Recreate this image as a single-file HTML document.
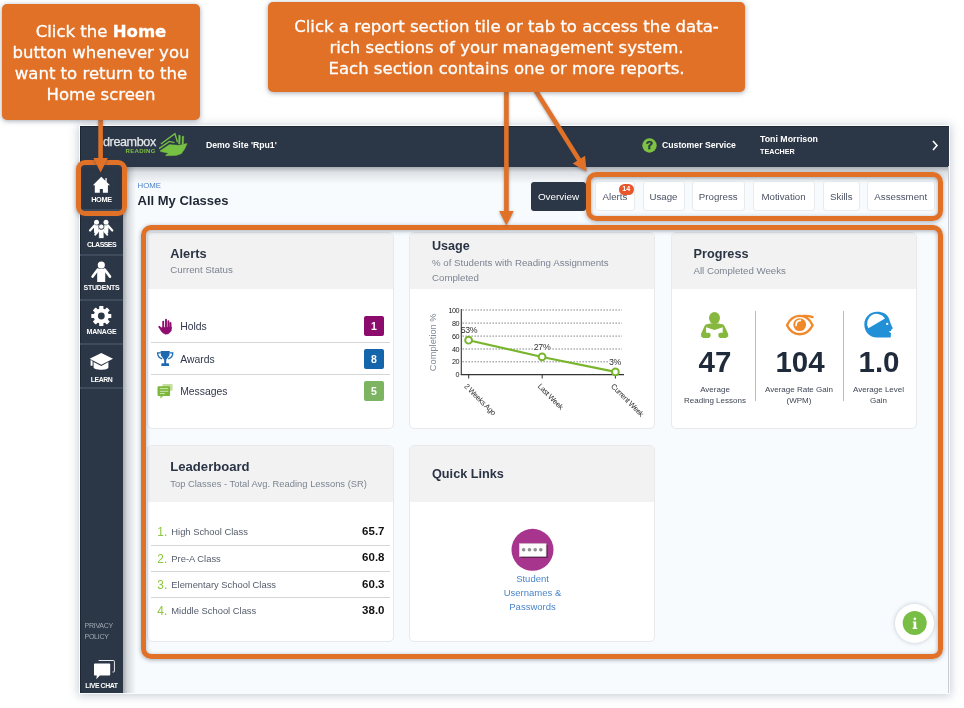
<!DOCTYPE html>
<html><head><meta charset="utf-8">
<style>
*{margin:0;padding:0;box-sizing:border-box}
html,body{width:964px;height:708px;overflow:hidden;background:#fff;font-family:"Liberation Sans",Arial,sans-serif}
.abs{position:absolute}
#app{position:absolute;left:80px;top:126px;width:869px;height:567px;background:#f6f9fc;box-shadow:0 0 0 1px rgba(255,255,255,.85),0 1px 9px 2px rgba(110,125,150,.38);}
#nav{position:absolute;left:80px;top:125.8px;width:869px;height:40.8px;background:#2b3646;border-top:1px solid #1d2633;border-left:1px solid #1d2633;z-index:3}
#side{position:absolute;left:80px;top:166px;width:43px;height:527px;background:#2b3646;z-index:2;border-left:1px solid #1d2633}
#main{position:absolute;left:123px;top:166px;width:826px;height:527px;background:#f7fbfe;overflow:hidden}
#main:before{content:"";position:absolute;left:0;top:0;right:0;height:18px;background:linear-gradient(rgba(60,64,68,.46),rgba(60,64,68,.14) 35%,rgba(60,64,68,0))}
.rborder{position:absolute;left:948px;top:166px;width:1px;height:527px;background:#c9ced6;z-index:4}
.card{position:absolute;background:#fff;border:1px solid #e6e8eb;border-radius:5px;overflow:hidden}
.card .hd{background:#f2f2f2;height:56px;padding-left:22px}
.card h3{font-size:12.5px;font-weight:bold;color:#2a3444}
.sub{font-size:9px;color:#7c8590}
.callout{position:absolute;background:#e07127;border-radius:5px;color:#fff;-webkit-text-stroke:0.3px #fff;text-align:center;box-shadow:0 1px 5px rgba(70,80,100,.5);z-index:20}
.ob{position:absolute;border:5px solid #e07127;border-radius:10px;z-index:10;box-shadow:0 1px 4px rgba(60,70,90,.45),inset 0 1px 4px rgba(60,70,90,.45)}
.sitem{position:absolute;left:80px;width:43px;text-align:center;color:#fff;font-size:7px;font-weight:bold}
.sep{position:absolute;left:80px;width:43px;height:2px;background:#3e4b5c;z-index:3}
.tab{position:absolute;top:181px;height:30px;background:#fff;border:1px solid #e8ebee;border-radius:3px;font-size:10px;color:#4a5262;text-align:center;line-height:28px;z-index:5}
</style></head><body>

<!-- app frame -->
<div id="app"></div>
<div id="nav"></div>
<div id="side"></div>
<div id="main"></div>
<div class="rborder"></div>
<div class="abs" style="left:123px;top:166px;width:13px;height:527px;z-index:2;background:linear-gradient(to right,rgba(40,44,48,.38),rgba(40,44,48,.16) 35%,rgba(40,44,48,0))"></div>


<!-- navbar content -->
<div class="abs" style="left:103px;top:134.8px;z-index:5;color:#e4e7ea;font-size:12.6px;letter-spacing:-0.4px;font-weight:400;-webkit-text-stroke:0.25px #e4e7ea">dreambox</div>
<div class="abs" style="left:125.5px;top:146.5px;z-index:5;color:#7dc242;font-size:6.1px;font-weight:bold;letter-spacing:0.3px">READING</div>
<svg class="abs" style="left:155px;top:130px;z-index:5" width="36" height="30" viewBox="0 0 36 30">
 <g fill="#76c043" stroke="#76c043">
 <path d="M5.9,14 L19.9,3.6 L22.5,12.3" stroke-width="1.4" fill="none"/>
 <path d="M4,18.6 L14.4,11.4 L19.5,12.7" stroke-width="1.3" fill="none"/>
 <path d="M23.7,5.1 L25.4,5.5 L25,14 L23.5,14 Z" stroke-width="0.4"/>
 <path d="M27.1,6.4 L28.8,6.1 L28.4,14 L27,14 Z" stroke-width="0.4"/>
 <path d="M5.1,20.8 L14.4,14.6 L23.7,15.3 L29.2,14 L32.2,13.6 L29.7,19.1 L26.3,23.7 L21.2,25.4 L11,25.8 L10.6,25 L13.6,23.3 L5.5,21.6 Z" stroke-width="0.4"/>
 </g>
</svg>
<div class="abs" style="left:206px;top:139.5px;z-index:5;color:#fff;font-size:8.7px;font-weight:bold">Demo Site 'Rpu1'</div>
<svg class="abs" style="left:642px;top:138px;z-index:5" width="15" height="15" viewBox="0 0 15 15"><circle cx="7.5" cy="7.5" r="7.2" fill="#7dc242"/><text x="7.5" y="11.4" text-anchor="middle" font-family="Liberation Sans" font-weight="bold" font-size="11.5" fill="#2b3646" stroke="#2b3646" stroke-width="0.5">?</text></svg>
<div class="abs" style="left:662px;top:139.5px;z-index:5;color:#fff;font-size:8.7px;font-weight:bold">Customer Service</div>
<div class="abs" style="left:760px;top:133.5px;z-index:5;color:#fff;font-size:8.8px;font-weight:bold">Toni Morrison</div>
<div class="abs" style="left:760px;top:146.5px;z-index:5;color:#fff;font-size:7.2px;font-weight:bold">TEACHER</div>
<svg class="abs" style="left:931px;top:140px;z-index:5" width="8" height="11" viewBox="0 0 8 11"><path d="M2,1 L6,5.5 L2,10" stroke="#fff" stroke-width="1.6" fill="none"/></svg>

<!-- sidebar content -->
<div class="sep" style="top:209.3px"></div>
<div class="sep" style="top:254px"></div>
<div class="sep" style="top:298.5px"></div>
<div class="sep" style="top:343px"></div>
<div class="sep" style="top:387px"></div>
<svg class="abs" style="left:80px;top:166px;z-index:5" width="43" height="527" viewBox="0 0 43 527" fill="#fff">
 <path d="M21.3,10.7 L25.4,14.8 L25.4,12.1 L26.7,12.1 L26.7,16.1 L29.9,19.3 L27.9,19.3 L27.9,26.8 L22.9,26.8 L22.9,22.9 L19.8,22.9 L19.8,26.8 L14.8,26.8 L14.8,19.3 L12.9,19.3 Z"/>
 <!-- classes -->
 <circle cx="16.5" cy="56.3" r="2.5"/><circle cx="26" cy="56.3" r="2.5"/>
 <path d="M13.8,59.2 L19.2,59.2 L19.5,67.3 L14.2,67.3 Z"/><path d="M23.2,59.2 L28.6,59.2 L28.2,67.3 L23,67.3 Z"/>
 <path d="M14.5,59.5 L10,64.5" stroke="#fff" stroke-width="2.2" stroke-linecap="round"/>
 <path d="M27.9,59.5 L32.3,64.5" stroke="#fff" stroke-width="2.2" stroke-linecap="round"/>
 <circle cx="21.3" cy="60.8" r="2.7" stroke="#2b3646" stroke-width="0.8"/>
 <path d="M18.5,63.2 L24,63.2 L24,72.5 L18.7,72.5 Z" stroke="#2b3646" stroke-width="0.8"/>
 <path d="M19,64 L15.3,68.7" stroke="#fff" stroke-width="2" stroke-linecap="round"/>
 <path d="M23.6,64 L27.2,68.7" stroke="#fff" stroke-width="2" stroke-linecap="round"/>
 <!-- student -->
 <circle cx="21.3" cy="99" r="3.6"/>
 <path d="M17.2,102.8 L25.3,102.8 L25.2,115.9 L17.2,115.9 Z"/>
 <path d="M17.8,103.5 L12.6,110.6 M24.7,103.5 L30,110.6" stroke="#fff" stroke-width="2.6" stroke-linecap="round"/>
 <!-- gear -->
 <g transform="translate(21.3,150)">
  <circle r="7.6"/>
  <rect x="-2.1" y="-10" width="4.2" height="5" rx="0.6" transform="rotate(0)"/><rect x="-2.1" y="-10" width="4.2" height="5" rx="0.6" transform="rotate(45)"/><rect x="-2.1" y="-10" width="4.2" height="5" rx="0.6" transform="rotate(90)"/><rect x="-2.1" y="-10" width="4.2" height="5" rx="0.6" transform="rotate(135)"/><rect x="-2.1" y="-10" width="4.2" height="5" rx="0.6" transform="rotate(180)"/><rect x="-2.1" y="-10" width="4.2" height="5" rx="0.6" transform="rotate(225)"/><rect x="-2.1" y="-10" width="4.2" height="5" rx="0.6" transform="rotate(270)"/><rect x="-2.1" y="-10" width="4.2" height="5" rx="0.6" transform="rotate(315)"/>
  <circle r="3.4" fill="#2b3646"/>
 </g>
 <!-- cap -->
 <path d="M21.3,187 L33,192.8 L21.3,198.8 L9.6,192.8 Z"/>
 <path d="M13.6,196 L21.3,199.9 L28.4,196 L28.4,201.5 C28.4,204.5 14,204.5 13.6,201.5 Z"/>
 <path d="M10.6,194 L12.6,195 L12.6,199.8 L10.6,199.8 Z"/>
 <!-- chat -->
 <path d="M18.6,494.5 L33.6,494.5 Q34.4,494.5 34.4,495.3 L34.4,505.2 Q34.4,506 33.6,506 L32.5,506" stroke="#fff" stroke-width="0.9" fill="none"/>
 <path d="M14.8,497.5 L29.4,497.5 Q30.2,497.5 30.2,498.3 L30.2,508.8 Q30.2,509.6 29.4,509.6 L19.8,509.6 L16.3,513.2 L16.8,509.6 L14.8,509.6 Q14,509.6 14,508.8 L14,498.3 Q14,497.5 14.8,497.5 Z"/>
</svg>
<div class="sitem" style="top:195px;font-size:7.3px;letter-spacing:-0.3px;z-index:6">HOME</div>
<div class="sitem" style="left:80px;top:241px;font-size:7px;letter-spacing:-0.55px;z-index:6">CLASSES</div>
<div class="sitem" style="left:80px;top:284px;font-size:7px;letter-spacing:-0.2px;z-index:6">STUDENTS</div>
<div class="sitem" style="left:80px;top:328px;font-size:7px;letter-spacing:-0.2px;z-index:6">MANAGE</div>
<div class="sitem" style="left:80px;top:375.5px;font-size:6.9px;letter-spacing:-0.4px;z-index:6">LEARN</div>
<div class="abs" style="left:84.5px;top:621px;z-index:6;color:#a3abb6;font-size:7px;line-height:11px;letter-spacing:-0.25px;margin-top:-1.5px">PRIVACY<br>POLICY</div>
<div class="sitem" style="left:80px;top:681.5px;font-size:6.9px;letter-spacing:-0.4px;z-index:6">LIVE CHAT</div>


<!-- main content -->
<div class="abs" style="left:137.5px;top:180.82px;font-size:7.8px;line-height:9.36px;color:#4a80c4;z-index:5">HOME</div>
<div class="abs" style="left:137.5px;top:192.9px;font-size:13px;line-height:15.6px;color:#1f2633;font-weight:bold;z-index:5">All My Classes</div>
<div class="abs" style="left:531px;top:182px;width:55px;height:29px;background:#2b3646;border-radius:3px;z-index:5"></div>
<div class="abs" style="left:531px;top:190.93px;font-size:9.9px;line-height:11.88px;width:55px;text-align:center;color:#fff;z-index:6">Overview</div>
<div class="abs" style="left:595px;top:181px;width:40px;height:30px;background:#fff;border:1px solid #e9ecef;border-radius:3px;z-index:5"></div>
<div class="abs" style="left:595px;top:191.12px;font-size:9.7px;line-height:11.64px;width:40px;text-align:center;color:#4b5263;z-index:6">Alerts</div>
<div class="abs" style="left:642.5px;top:181px;width:42px;height:30px;background:#fff;border:1px solid #e9ecef;border-radius:3px;z-index:5"></div>
<div class="abs" style="left:642.5px;top:191.12px;font-size:9.7px;line-height:11.64px;width:42px;text-align:center;color:#4b5263;z-index:6">Usage</div>
<div class="abs" style="left:691.5px;top:181px;width:53.5px;height:30px;background:#fff;border:1px solid #e9ecef;border-radius:3px;z-index:5"></div>
<div class="abs" style="left:691.5px;top:191.12px;font-size:9.7px;line-height:11.64px;width:53.5px;text-align:center;color:#4b5263;z-index:6">Progress</div>
<div class="abs" style="left:752.5px;top:181px;width:62px;height:30px;background:#fff;border:1px solid #e9ecef;border-radius:3px;z-index:5"></div>
<div class="abs" style="left:752.5px;top:191.12px;font-size:9.7px;line-height:11.64px;width:62px;text-align:center;color:#4b5263;z-index:6">Motivation</div>
<div class="abs" style="left:823px;top:181px;width:36.5px;height:30px;background:#fff;border:1px solid #e9ecef;border-radius:3px;z-index:5"></div>
<div class="abs" style="left:823px;top:191.12px;font-size:9.7px;line-height:11.64px;width:36.5px;text-align:center;color:#4b5263;z-index:6">Skills</div>
<div class="abs" style="left:867px;top:181px;width:67.5px;height:30px;background:#fff;border:1px solid #e9ecef;border-radius:3px;z-index:5"></div>
<div class="abs" style="left:867px;top:191.12px;font-size:9.7px;line-height:11.64px;width:67.5px;text-align:center;color:#4b5263;z-index:6">Assessment</div>
<div class="abs" style="left:618.5px;top:183.5px;width:15.5px;height:11.5px;border-radius:6px;background:#e8562a;z-index:7"></div>
<div class="abs" style="left:618.5px;top:185.49px;font-size:7.2px;line-height:8.64px;width:15.5px;text-align:center;color:#fff;font-weight:bold;z-index:8">14</div>
<div class="abs" style="left:147px;top:232px;width:247px;height:197px;background:#fff;border:1px solid #e7e9ec;border-radius:5px;overflow:hidden;z-index:4"><div style="height:56px;background:#f2f2f2"></div></div>
<div class="abs" style="left:409px;top:232px;width:246px;height:197px;background:#fff;border:1px solid #e7e9ec;border-radius:5px;overflow:hidden;z-index:4"><div style="height:56px;background:#f2f2f2"></div></div>
<div class="abs" style="left:671px;top:232px;width:246px;height:197px;background:#fff;border:1px solid #e7e9ec;border-radius:5px;overflow:hidden;z-index:4"><div style="height:56px;background:#f2f2f2"></div></div>
<div class="abs" style="left:147px;top:444.6px;width:247px;height:197px;background:#fff;border:1px solid #e7e9ec;border-radius:5px;overflow:hidden;z-index:4"><div style="height:56px;background:#f2f2f2"></div></div>
<div class="abs" style="left:409px;top:444.6px;width:246px;height:197px;background:#fff;border:1px solid #e7e9ec;border-radius:5px;overflow:hidden;z-index:4"><div style="height:56px;background:#f2f2f2"></div></div>
<div class="abs" style="left:170.3px;top:245.78px;font-size:12.8px;line-height:15.36px;color:#2a3444;font-weight:bold;z-index:5">Alerts</div>
<div class="abs" style="left:170.3px;top:264.02px;font-size:9.7px;line-height:11.64px;color:#7b8491;z-index:5">Current Status</div>
<div class="abs" style="left:432px;top:238.87px;font-size:12.6px;line-height:15.12px;color:#2a3444;font-weight:bold;z-index:5">Usage</div>
<div class="abs" style="left:432px;top:257.42px;font-size:9.7px;line-height:11.64px;color:#7b8491;z-index:5">% of Students with Reading Assignments</div>
<div class="abs" style="left:432px;top:271.92px;font-size:9.7px;line-height:11.64px;color:#7b8491;z-index:5">Completed</div>
<div class="abs" style="left:693.5px;top:246.98px;font-size:12.7px;line-height:15.24px;color:#2a3444;font-weight:bold;z-index:5">Progress</div>
<div class="abs" style="left:693.5px;top:265.02px;font-size:9.7px;line-height:11.64px;color:#7b8491;z-index:5">All Completed Weeks</div>
<div class="abs" style="left:170.3px;top:458.7px;font-size:13.1px;line-height:15.72px;color:#2a3444;font-weight:bold;z-index:5">Leaderboard</div>
<div class="abs" style="left:170.3px;top:477.7px;font-size:9.4px;line-height:11.28px;color:#7b8491;z-index:5">Top Classes - Total Avg. Reading Lessons (SR)</div>
<div class="abs" style="left:432px;top:466.78px;font-size:12.7px;line-height:15.24px;color:#2a3444;font-weight:bold;z-index:5">Quick Links</div>
<div class="abs" style="left:180.2px;top:321.06px;font-size:10.4px;line-height:12.48px;color:#30374a;z-index:5">Holds</div>
<div class="abs" style="left:180.2px;top:353.76px;font-size:10.4px;line-height:12.48px;color:#30374a;z-index:5">Awards</div>
<div class="abs" style="left:180.2px;top:385.56px;font-size:10.4px;line-height:12.48px;color:#30374a;z-index:5">Messages</div>
<div class="abs" style="left:151px;top:342.2px;width:239px;height:1.2px;background:#d3d6d9;z-index:5"></div>
<div class="abs" style="left:151px;top:374.2px;width:239px;height:1.2px;background:#d3d6d9;z-index:5"></div>
<div class="abs" style="left:364px;top:316.3px;width:20px;height:20px;background:#8b0c6c;border-radius:2px;z-index:5"></div>
<div class="abs" style="left:364px;top:320.36px;font-size:10.5px;line-height:12.6px;width:20px;text-align:center;color:#fff;font-weight:bold;z-index:6">1</div>
<div class="abs" style="left:364px;top:349px;width:20px;height:20px;background:#1565ad;border-radius:2px;z-index:5"></div>
<div class="abs" style="left:364px;top:353.06px;font-size:10.5px;line-height:12.6px;width:20px;text-align:center;color:#fff;font-weight:bold;z-index:6">8</div>
<div class="abs" style="left:364px;top:381px;width:20px;height:20px;background:#7cb462;border-radius:2px;z-index:5"></div>
<div class="abs" style="left:364px;top:385.06px;font-size:10.5px;line-height:12.6px;width:20px;text-align:center;color:#fff;font-weight:bold;z-index:6">5</div>
<div class="abs" style="left:157.3px;top:525.24px;font-size:11.9px;line-height:14.28px;color:#8dc63f;z-index:5">1.</div>
<div class="abs" style="left:171.3px;top:526.1px;font-size:9.4px;line-height:11.28px;color:#555d6b;z-index:5">High School Class</div>
<div class="abs" style="left:330px;top:525.02px;font-size:11.5px;line-height:13.8px;width:54.5px;text-align:right;color:#111;font-weight:bold;z-index:5">65.7</div>
<div class="abs" style="left:157.3px;top:551.64px;font-size:11.9px;line-height:14.28px;color:#8dc63f;z-index:5">2.</div>
<div class="abs" style="left:171.3px;top:552.5px;font-size:9.4px;line-height:11.28px;color:#555d6b;z-index:5">Pre-A Class</div>
<div class="abs" style="left:330px;top:551.42px;font-size:11.5px;line-height:13.8px;width:54.5px;text-align:right;color:#111;font-weight:bold;z-index:5">60.8</div>
<div class="abs" style="left:157.3px;top:578.04px;font-size:11.9px;line-height:14.28px;color:#8dc63f;z-index:5">3.</div>
<div class="abs" style="left:171.3px;top:578.9px;font-size:9.4px;line-height:11.28px;color:#555d6b;z-index:5">Elementary School Class</div>
<div class="abs" style="left:330px;top:577.82px;font-size:11.5px;line-height:13.8px;width:54.5px;text-align:right;color:#111;font-weight:bold;z-index:5">60.3</div>
<div class="abs" style="left:157.3px;top:604.44px;font-size:11.9px;line-height:14.28px;color:#8dc63f;z-index:5">4.</div>
<div class="abs" style="left:171.3px;top:605.3px;font-size:9.4px;line-height:11.28px;color:#555d6b;z-index:5">Middle School Class</div>
<div class="abs" style="left:330px;top:604.22px;font-size:11.5px;line-height:13.8px;width:54.5px;text-align:right;color:#111;font-weight:bold;z-index:5">38.0</div>
<div class="abs" style="left:151px;top:544.5px;width:239px;height:1.2px;background:#d3d6d9;z-index:5"></div>
<div class="abs" style="left:151px;top:570.7px;width:239px;height:1.2px;background:#d3d6d9;z-index:5"></div>
<div class="abs" style="left:151px;top:596.9px;width:239px;height:1.2px;background:#d3d6d9;z-index:5"></div>
<div class="abs" style="left:683px;top:344.38px;font-size:29.5px;line-height:35.4px;color:#1f2a3a;font-weight:bold;z-index:5;text-align:center;width:64px">47</div>
<div class="abs" style="left:760px;top:344.38px;font-size:29.5px;line-height:35.4px;color:#1f2a3a;font-weight:bold;z-index:5;text-align:center;width:80px">104</div>
<div class="abs" style="left:845px;top:344.38px;font-size:29.5px;line-height:35.4px;color:#1f2a3a;font-weight:bold;z-index:5;text-align:center;width:68px">1.0</div>
<div class="abs" style="left:675px;top:384.93px;font-size:8px;line-height:9.6px;color:#3d4553;z-index:5;text-align:center;width:80px">Average</div>
<div class="abs" style="left:675px;top:396.43px;font-size:8px;line-height:9.6px;color:#3d4553;z-index:5;text-align:center;width:80px">Reading Lessons</div>
<div class="abs" style="left:759px;top:384.93px;font-size:8px;line-height:9.6px;color:#3d4553;z-index:5;text-align:center;width:80px">Average Rate Gain</div>
<div class="abs" style="left:759px;top:396.43px;font-size:8px;line-height:9.6px;color:#3d4553;z-index:5;text-align:center;width:80px">(WPM)</div>
<div class="abs" style="left:838.5px;top:384.93px;font-size:8px;line-height:9.6px;color:#3d4553;z-index:5;text-align:center;width:80px">Average Level</div>
<div class="abs" style="left:838.5px;top:396.43px;font-size:8px;line-height:9.6px;color:#3d4553;z-index:5;text-align:center;width:80px">Gain</div>
<div class="abs" style="left:755px;top:311px;width:1px;height:89.5px;background:#b9bdc3;z-index:5"></div>
<div class="abs" style="left:843px;top:311px;width:1px;height:89.5px;background:#b9bdc3;z-index:5"></div>
<div class="abs" style="left:492.5px;top:573.01px;font-size:9.5px;line-height:11.4px;color:#4a86c8;z-index:5;text-align:center;width:80px">Student</div>
<div class="abs" style="left:492.5px;top:587.31px;font-size:9.5px;line-height:11.4px;color:#4a86c8;z-index:5;text-align:center;width:80px">Usernames &amp;</div>
<div class="abs" style="left:492.5px;top:600.71px;font-size:9.5px;line-height:11.4px;color:#4a86c8;z-index:5;text-align:center;width:80px">Passwords</div>

<!-- icons -->
<svg class="abs" style="left:0;top:0;z-index:6" width="964" height="708" viewBox="0 0 964 708">
<!-- hand -->
<g fill="#8e0d6e" stroke="#8e0d6e" stroke-linecap="round">
 <path d="M161.8,327.5 L171.6,327 L171.2,331 L168.5,333.8 L165.5,334.3 L162.6,332.8 L160.6,330 Z" stroke-width="0.5"/>
 <path d="M163.2,321.6 L163.2,328.5 M166,319.8 L166,328.5 M168.4,321.2 L168.4,328.5 M170.5,323 L170.5,328.5" stroke-width="1.9" fill="none"/>
 <path d="M159.3,326.9 L162.8,331" stroke-width="2" fill="none"/>
</g>
<!-- trophy -->
<g fill="#1e68b2">
 <path d="M160.6,351.1 L169.8,351.1 L169.4,355.5 L166.3,359.8 L166.1,363.2 L168.8,363.2 L169.2,365.9 L161.2,365.9 L161.6,363.2 L164.3,363.2 L164.1,359.8 L161,355.5 Z"/>
 <path d="M160.8,352.8 L157.6,352.8 Q157.6,357.8 162.2,358.8" stroke="#1e68b2" stroke-width="1.3" fill="none"/>
 <path d="M169.6,352.8 L172.8,352.8 Q172.8,357.8 168.2,358.8" stroke="#1e68b2" stroke-width="1.3" fill="none"/>
</g>
<!-- messages -->
<rect x="162.4" y="383.9" width="10.2" height="6.8" rx="1" fill="#c4df9f"/>
<path d="M158.5,386.3 L169.2,386.3 Q170.1,386.3 170.1,387.2 L170.1,395.1 Q170.1,396 169.2,396 L163,396 L160.3,398.4 L160.6,396 L158.5,396 Q157.5,396 157.5,395.1 L157.5,387.2 Q157.5,386.3 158.5,386.3 Z" fill="#7db83a"/>
<path d="M159.9,388.6 L168.2,388.6 M159.9,391.3 L168.2,391.3 M159.9,393.6 L164.8,393.6" stroke="#d8ebc3" stroke-width="0.9"/>
<!-- reader -->
<g fill="#86b83e">
 <ellipse cx="714.5" cy="318.1" rx="5.5" ry="6.1"/>
 <path d="M710.4,323.6 L705.6,324.6 L704.4,326.3 L701,334 L701.3,336.8 L703.2,338 L709,338 L710.7,335.9 L710.4,333.5 L708.7,332.8 L706.1,332.8 L706.1,327.2 L714.5,329.9 L722.7,327.2 L722.7,332.8 L720,332.8 L718.4,333.7 L718.4,336.4 L720,338 L725.8,338 L728.2,336.4 L728.2,334 L724.6,326.3 L723.4,324.6 L718.6,323.6 Z"/>
</g>
<!-- eye -->
<g fill="none" stroke="#f0892a" stroke-linecap="round">
 <path d="M787,325.3 C790,318.6 794.8,315.9 799.8,315.9 C804.8,315.9 809.6,318.6 812.6,325.3 C809.6,331.6 804.8,334.2 799.8,334.2 C794.8,334.2 790,331.6 787,325.3 Z" stroke-width="2.4" stroke-linejoin="round"/>
 <path d="M803,315.9 Q808.5,315.6 812.6,317.1" stroke-width="2.3"/>
 <circle cx="799.7" cy="324.6" r="6.4" fill="#f0892a" stroke="none"/>
 <path d="M796,325.5 Q796,320.6 800.4,320.4" stroke="#fff" stroke-width="1.7"/>
</g>
<!-- head -->
<path d="M876.8,337.5 C869.5,337.5 864.3,331.5 864.3,324.5 C864.3,317.3 870,311.8 877,311.8 C883,311.8 887.5,314.5 889,318.5 L890.7,323.8 L892.8,328.3 L891,330 L891.3,330.8 L888.8,331.6 L891,333.2 L890.7,337.5 Z" fill="#2290d6"/>
<path d="M868.4,328.2 A9.4,9.4 0 0 1 885,318.6 Z" fill="#fff"/>
<rect x="886.2" y="322.9" width="2" height="2" fill="#fff"/>
<!-- quick link -->
<circle cx="532.5" cy="549.8" r="21" fill="#a7348d"/>
<rect x="520.6" y="545" width="27" height="12.8" fill="#5a1a4a"/>
<rect x="519.3" y="543.7" width="26.8" height="12.7" fill="#fbfcfb" stroke="#cfd4cf" stroke-width="0.6"/>
<g fill="#8d8f8d"><circle cx="523.6" cy="549.8" r="1.8"/><circle cx="529.5" cy="549.8" r="1.8"/><circle cx="535.2" cy="549.8" r="1.8"/><circle cx="540.8" cy="549.8" r="1.8"/></g>
</svg>
<!-- info button -->
<div class="abs" style="left:894.9px;top:603.8px;width:39.2px;height:39.2px;border-radius:50%;background:#fff;box-shadow:0 0 4px rgba(90,100,120,.35);z-index:12"></div>
<svg class="abs" style="left:894px;top:603px;z-index:13" width="41" height="41" viewBox="894 603 41 41">
 <circle cx="914.7" cy="623.1" r="12" fill="#78be45"/>
 <circle cx="914.8" cy="618.8" r="1.35" fill="#fff"/>
 <path d="M912.8,621.5 L916.2,621.5 L916.2,627.7 L917.2,627.7 L917.2,628.9 L912.6,628.9 L912.6,627.7 L913.6,627.7 L913.6,622.6 L912.8,622.6 Z" fill="#fff"/>
</svg>

<!-- chart -->
<svg class="abs" style="left:409px;top:288px;z-index:5" width="246" height="140" viewBox="409 288 246 140" font-family="Liberation Sans, sans-serif">
<line x1="462.5" y1="310" x2="622" y2="310" stroke="#6b6f75" stroke-width="1" stroke-dasharray="1.3,1.7"/><line x1="462.5" y1="323.1" x2="622" y2="323.1" stroke="#6b6f75" stroke-width="1" stroke-dasharray="1.3,1.7"/><line x1="462.5" y1="336.1" x2="622" y2="336.1" stroke="#6b6f75" stroke-width="1" stroke-dasharray="1.3,1.7"/><line x1="462.5" y1="349" x2="622" y2="349" stroke="#6b6f75" stroke-width="1" stroke-dasharray="1.3,1.7"/><line x1="462.5" y1="361.8" x2="622" y2="361.8" stroke="#6b6f75" stroke-width="1" stroke-dasharray="1.3,1.7"/>
<line x1="461.3" y1="309" x2="461.3" y2="375" stroke="#333" stroke-width="1.1"/>
<line x1="460.8" y1="374.6" x2="624" y2="374.6" stroke="#333" stroke-width="1.1"/>
<line x1="468.7" y1="374.6" x2="468.7" y2="378.5" stroke="#333" stroke-width="1"/>
<line x1="542.2" y1="374.6" x2="542.2" y2="378.5" stroke="#333" stroke-width="1"/>
<line x1="615.4" y1="374.6" x2="615.4" y2="378.5" stroke="#333" stroke-width="1"/>
<text x="459" y="312.6" text-anchor="end" font-size="7.2" letter-spacing="-0.5" fill="#222">100</text><text x="459" y="325.70000000000005" text-anchor="end" font-size="7.2" letter-spacing="-0.5" fill="#222">80</text><text x="459" y="338.70000000000005" text-anchor="end" font-size="7.2" letter-spacing="-0.5" fill="#222">60</text><text x="459" y="351.6" text-anchor="end" font-size="7.2" letter-spacing="-0.5" fill="#222">40</text><text x="459" y="364.40000000000003" text-anchor="end" font-size="7.2" letter-spacing="-0.5" fill="#222">20</text><text x="459" y="377.20000000000005" text-anchor="end" font-size="7.2" letter-spacing="-0.5" fill="#222">0</text>
<text transform="translate(435.7,342.3) rotate(-90)" text-anchor="middle" font-size="9.3" fill="#7f8998">Completion %</text>
<polyline points="468.6,340.2 542.1,356.9 615.4,371.9" stroke="#79b52c" stroke-width="2.1" fill="none"/>
<circle cx="468.6" cy="340.2" r="3.4" fill="#fff" stroke="#79b52c" stroke-width="1.9"/>
<circle cx="542.1" cy="356.9" r="3.4" fill="#fff" stroke="#79b52c" stroke-width="1.9"/>
<circle cx="615.4" cy="371.9" r="3.4" fill="#fff" stroke="#79b52c" stroke-width="1.9"/>
<text x="469" y="333.1" text-anchor="middle" font-size="8.8" letter-spacing="-0.3" fill="#333">53%</text>
<text x="542.1" y="349.8" text-anchor="middle" font-size="8.8" letter-spacing="-0.3" fill="#333" stroke="#fff" stroke-width="2.5" paint-order="stroke">27%</text>
<text x="615" y="365" text-anchor="middle" font-size="8.8" letter-spacing="-0.3" fill="#333" stroke="#fff" stroke-width="2.5" paint-order="stroke">3%</text>
<text transform="translate(463.8,386.8) rotate(45)" font-size="7.6" letter-spacing="-0.35" fill="#333">2 Weeks Ago</text>
<text transform="translate(537.2,386.8) rotate(45)" font-size="7.6" letter-spacing="-0.35" fill="#333">Last Week</text>
<text transform="translate(610.5,386.8) rotate(45)" font-size="7.6" letter-spacing="-0.35" fill="#333">Current Week</text>
</svg>
<!-- callouts -->
<div class="callout" style="left:2px;top:4px;width:198px;height:116px;font-family:'DejaVu Sans',sans-serif;font-size:16.55px;line-height:21px;padding-top:16.5px">Click the <b>Home</b><br>button whenever you<br>want to return to the<br>Home screen</div>
<div class="callout" style="left:268px;top:2px;width:477px;height:90px;font-family:'DejaVu Sans',sans-serif;font-size:16.55px;line-height:20.8px;padding-top:15px">Click a report section tile or tab to access the data-<br>rich sections of your management system.<br>Each section contains one or more reports.</div>

<!-- arrows -->
<svg class="abs" style="left:0;top:0;z-index:15;filter:drop-shadow(0 1px 1.5px rgba(50,60,80,.45))" width="964" height="708" viewBox="0 0 964 708"><path d="M100.60,118.00 L100.60,159.00" stroke="#e07127" stroke-width="4.6" fill="none"/><path d="M100.60,172.50 L93.30,158.00 L107.90,158.00 Z" fill="#e07127"/><path d="M506.40,90.00 L506.40,212.00" stroke="#e07127" stroke-width="4.6" fill="none"/><path d="M506.40,225.50 L499.10,211.00 L513.70,211.00 Z" fill="#e07127"/><path d="M535.60,90.50 L579.43,160.36" stroke="#e07127" stroke-width="4.6" fill="none"/><path d="M586.60,171.80 L572.71,163.40 L585.08,155.64 Z" fill="#e07127"/></svg>
<!-- orange boxes -->
<div class="ob" style="left:76px;top:160px;width:51px;height:56px;border-radius:9px"></div>
<div class="ob" style="left:586px;top:172px;width:357px;height:49px;border-radius:10px"></div>
<div class="ob" style="left:141px;top:225px;width:802px;height:434px;border-radius:10px"></div>

</body></html>
